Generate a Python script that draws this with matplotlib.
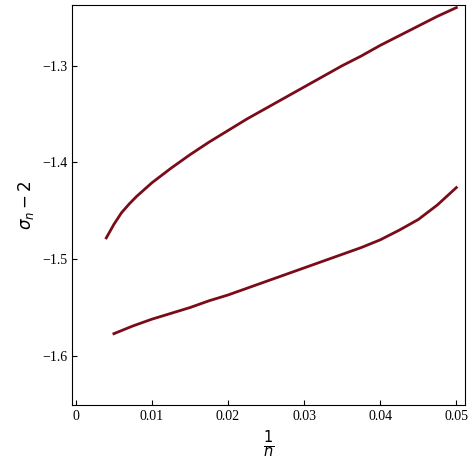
import matplotlib
matplotlib.use("Agg")
import matplotlib.pyplot as plt

x_upper = [0.004, 0.005, 0.006, 0.007, 0.008, 0.009, 0.01, 0.0125, 0.015, 0.0175, 0.02, 0.0225, 0.025,
           0.0275, 0.03, 0.0325, 0.035, 0.0375, 0.04, 0.0425, 0.045, 0.0475, 0.05]
y_upper = [-1.478, -1.464, -1.452, -1.443, -1.435, -1.428, -1.421, -1.406, -1.392, -1.379, -1.367, -1.355, -1.344,
           -1.333, -1.322, -1.311, -1.300, -1.290, -1.279, -1.269, -1.259, -1.249, -1.240]
x_lower = [0.005, 0.0075, 0.01, 0.0125, 0.015, 0.0175, 0.02, 0.0225, 0.025, 0.0275, 0.03, 0.0325,
           0.035, 0.0375, 0.04, 0.0425, 0.045, 0.0475, 0.05]
y_lower = [-1.577, -1.569, -1.562, -1.556, -1.550, -1.543, -1.537, -1.530, -1.523, -1.516, -1.509, -1.502,
           -1.495, -1.488, -1.480, -1.470, -1.459, -1.444, -1.426]

fig = plt.figure(figsize=(4.74, 4.74), dpi=100)
ax = fig.add_axes([0.152, 0.145, 0.83, 0.845])
c = '#7a0c1a'
ax.plot(x_upper, y_upper, color=c, lw=2)
ax.plot(x_lower, y_lower, color=c, lw=2)
ax.set_xlim(-0.0005, 0.0512)
ax.set_ylim(-1.651, -1.237)
ax.set_xticks([0, 0.01, 0.02, 0.03, 0.04, 0.05])
ax.set_xticklabels(['0', '0.01', '0.02', '0.03', '0.04', '0.05'])
ax.set_yticks([-1.6, -1.5, -1.4, -1.3])
ax.set_yticklabels(['−1.6', '−1.5', '−1.4', '−1.3'])
ax.tick_params(labelsize=10, direction='in')
for lbl in ax.get_xticklabels() + ax.get_yticklabels():
    lbl.set_family('Liberation Serif')
ax.set_xlabel(r'$\frac{1}{n}$', fontsize=15)
ax.set_ylabel(r'$\sigma_n - 2$', fontsize=12)
fig.savefig('out.png', dpi=100)
